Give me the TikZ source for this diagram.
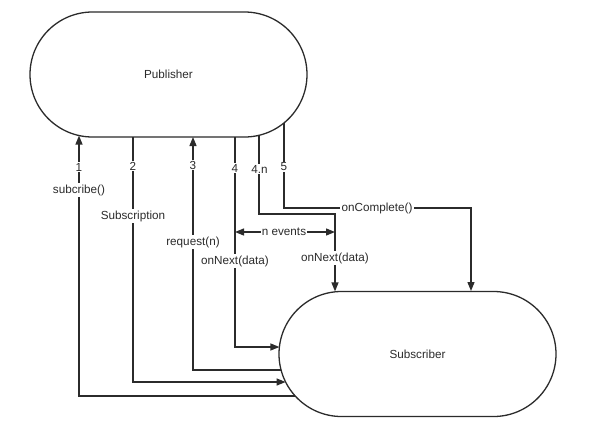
\documentclass[tikz,border=0pt]{standalone}
\usepackage{fontspec}
\setmainfont{Liberation Sans}
\usetikzlibrary{shapes.misc,arrows.meta}
\definecolor{ink}{HTML}{2B2B2B}
\tikzset{
  actor/.style={draw=ink, line width=1.3pt, rounded rectangle, minimum width=277pt,
    minimum height=125pt, inner sep=0pt, fill=white, text=ink,
    font=\fontsize{11.7}{14}\selectfont},
  msg/.style={fill=white, inner sep=1.2pt, text=ink, font=\fontsize{11.7}{14}\selectfont},
  flow/.style={draw=ink, line width=1.3pt, -{Triangle[length=9pt,width=7pt]}},
}
\begin{document}
\begin{tikzpicture}[x=1pt,y=-1pt]
  \useasboundingbox[fill=white] (0,0) rectangle (597,429);
  % the two parties
  \node[actor] (pub) at (168.5,74.5) {Publisher};
  \node[actor] (sub) at (417.5,354) {Subscriber};
  % end points on the borders
  \coordinate (p1) at (79,135.6);
  \coordinate (p2) at (133,137);
  \coordinate (p3) at (193,137);
  \coordinate (p4) at (235,137);
  \coordinate (p4n) at (259,135.4);
  \coordinate (p5) at (284,123.3);
  \coordinate (s1) at (295,396);
  \coordinate (s2) at (285.6,382);
  \coordinate (s3) at (281.1,370);
  \coordinate (s4) at (279.4,347);
  \coordinate (t4n) at (335,214);
  \coordinate (s4n) at (335,291.4);
  \coordinate (t5) at (471,208);
  \coordinate (s5) at (471,291);
  % connectors
  \draw[flow] (s1) -| (p1);
  \draw[flow] (p2) |- (s2);
  \draw[flow] (s3) -| (p3);
  \draw[flow] (p4) |- (s4);
  \draw[flow] (p4n) |- (t4n) -- (s4n);
  \draw[flow] (p5) |- (t5) -- (s5);
  \coordinate (e1) at (235,232);
  \coordinate (e2) at (335,232);
  \draw[flow, {Triangle[length=9pt,width=7pt]}-{Triangle[length=9pt,width=7pt]}] (e1) -- (e2);
  % labels
  \node[msg] (n1) at (79,167) {1};
  \node[msg] (m1) at (79,190) {subcribe()};
  \node[msg] (n2) at (133,166) {2};
  \node[msg] (m2) at (133,216) {Subscription};
  \node[msg] (n3) at (193,165) {3};
  \node[msg] (m3) at (193,242) {request(n)};
  \node[msg] (n4) at (235,168) {4};
  \node[msg] (m4) at (235,261) {onNext(data)};
  \node[msg] (n4n) at (259.5,169) {4.n};
  \node[msg] (m4n) at (335,258) {onNext(data)};
  \node[msg] (n5) at (284,167) {5};
  \node[msg] (m5) at (377,208) {onComplete()};
  \node[msg] (nev) at (284,232) {n events};
\end{tikzpicture}
\end{document}
